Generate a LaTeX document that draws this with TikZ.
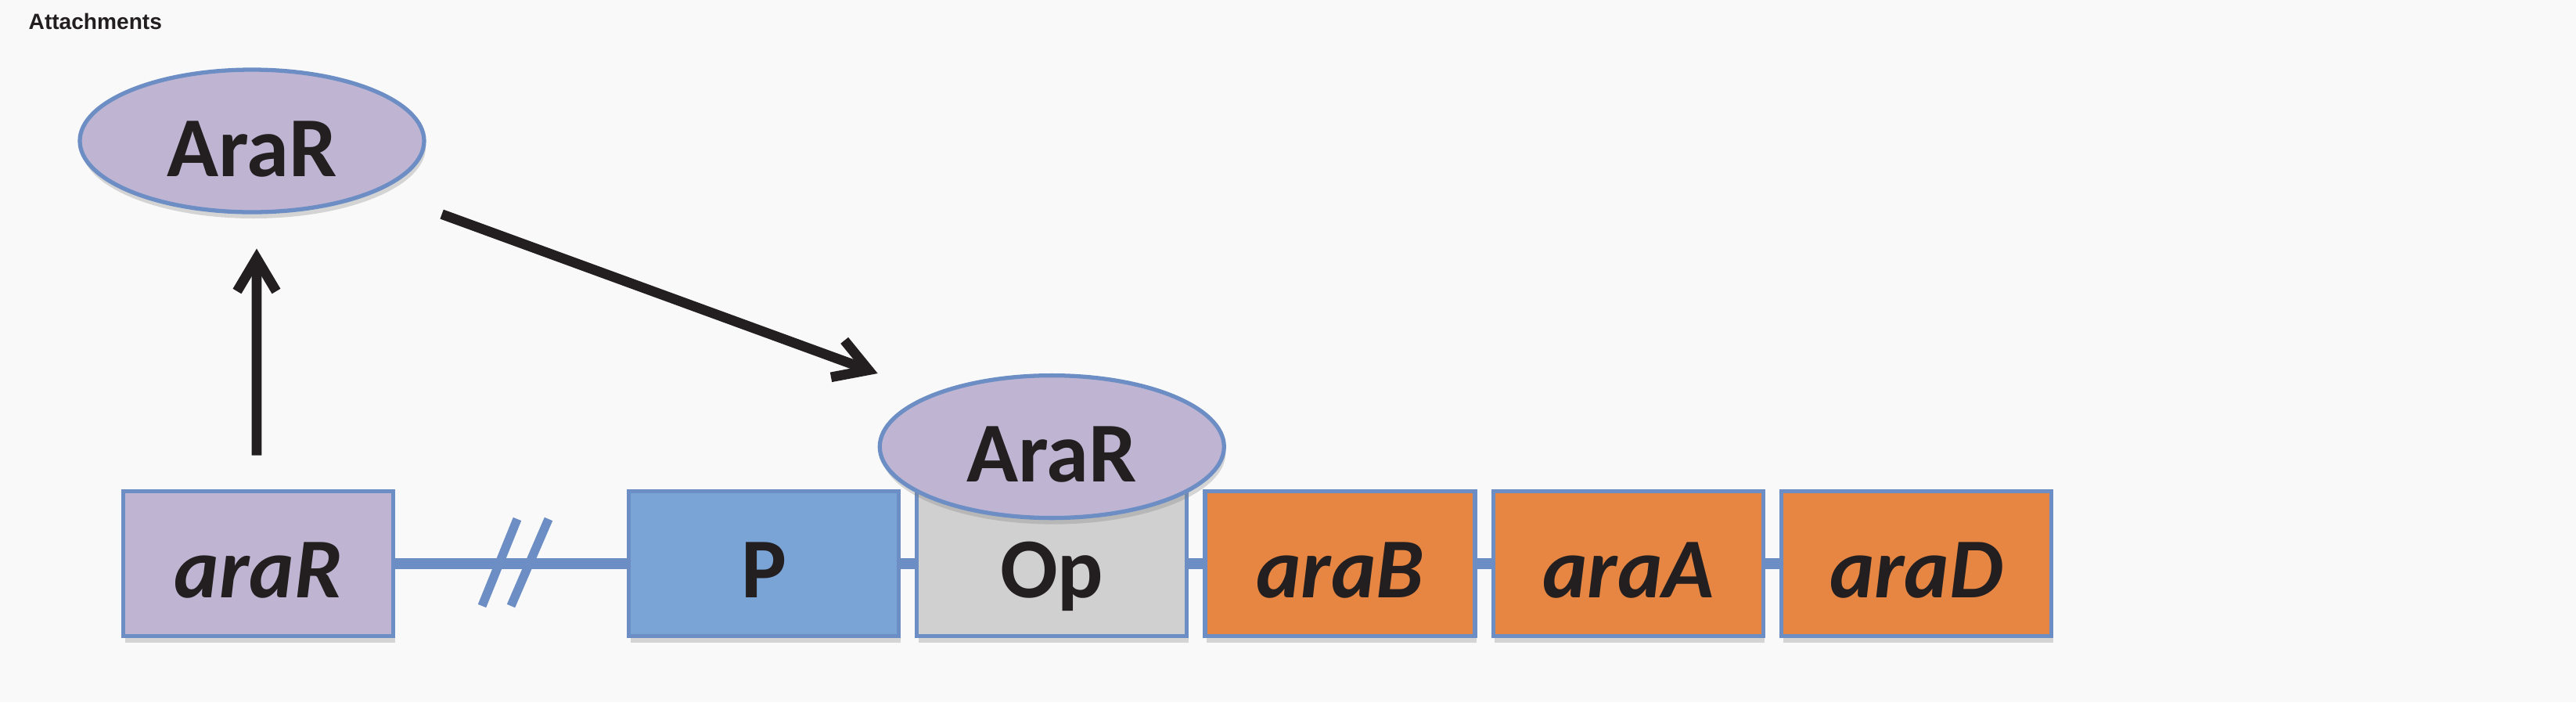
\documentclass[tikz,border=0pt]{standalone}
\usepackage{fontspec}
\setmainfont{Carlito}
\newfontfamily\titlefont{Liberation Sans}
\usetikzlibrary{positioning,shapes.geometric,arrows.meta,calc,shadows}

\definecolor{bgpage}{RGB}{249,249,249}
\definecolor{rimblue}{RGB}{108,142,196}
\definecolor{lavender}{RGB}{191,181,211}
\definecolor{promblue}{RGB}{122,164,214}
\definecolor{opgrey}{RGB}{208,208,208}
\definecolor{geneorange}{RGB}{231,134,66}
\definecolor{inkdark}{RGB}{35,31,32}

\pgfdeclarelayer{paper}
\pgfdeclarelayer{wire}
\pgfsetlayers{paper,wire,main}

\tikzset{
  part/.style={draw=rimblue, line width=1.5pt, minimum width=3.45cm, minimum height=1.855cm,
    inner sep=0pt, text=inkdark, font=\fontsize{31}{31}\selectfont\bfseries,
    text height=0.86cm, text depth=0cm,
    drop shadow={shadow xshift=0.02cm, shadow yshift=-0.08cm, opacity=0.3}},
  gene/.style={part, fill=geneorange, font=\fontsize{31}{31}\selectfont\bfseries\itshape},
  protein/.style={ellipse, draw=rimblue, line width=1.5pt, fill=lavender,
    minimum width=4.40cm, minimum height=1.82cm, inner sep=0pt, text=inkdark,
    font=\fontsize{31}{31}\selectfont\bfseries, text height=0.9cm, text depth=0cm,
    drop shadow={shadow xshift=0.02cm, shadow yshift=-0.08cm, opacity=0.3}},
  arr/.style={draw=inkdark, line width=3.6pt, -{Straight Barb[length=0.42cm, width=0.5cm]}},
  dna/.style={draw=rimblue, line width=3.8pt}
}

\begin{document}
\begin{tikzpicture}
\begin{pgfonlayer}{paper}
\fill[bgpage] (0,0) rectangle (32.92,-8.97);
\end{pgfonlayer}
\useasboundingbox (0,0) rectangle (32.92,-8.97);

\node[anchor=base west, inner sep=0pt, text=inkdark, font=\titlefont\bfseries\fontsize{8}{8}\selectfont] (title) at (0.36,-0.37) {Attachments};

\node[gene, fill=lavender] (araR) at (3.30,-7.20) {araR};
\node[part, fill=promblue] (P) at (9.76,-7.20) {P};
\node[part, fill=opgrey, right=0.18cm of P] (Op) {Op};
\node[gene, right=0.18cm of Op] (araB) {araB};
\node[gene, right=0.18cm of araB] (araA) {araA};
\node[gene, right=0.18cm of araA] (araD) {araD};

\node[protein] (freeAraR) at (3.22,-1.80) {AraR};
\node[protein] (boundAraR) at ([yshift=0.54cm]Op.north) {AraR};

\begin{pgfonlayer}{wire}
\draw[dna] (araR.east) -- (araD.west);
\end{pgfonlayer}

\coordinate (brk) at ($(araR.east)!0.5!(P.west)$);
\draw[dna, line width=3.2pt] ($(brk)+(0.08,0.57)$) -- ($(brk)+(-0.37,-0.54)$);
\draw[dna, line width=3.2pt] ($(brk)+(0.48,0.57)$) -- ($(brk)+(0,-0.54)$);

\draw[arr, shorten <=0.43cm, shorten >=0.44cm] ([xshift=-0.02cm]araR.north) -- ([xshift=0.06cm]freeAraR.south);
\draw[arr] ($(freeAraR.east |- freeAraR.south)+(0.2,0)$) -- (boundAraR.west |- boundAraR.north);
\end{tikzpicture}
\end{document}
